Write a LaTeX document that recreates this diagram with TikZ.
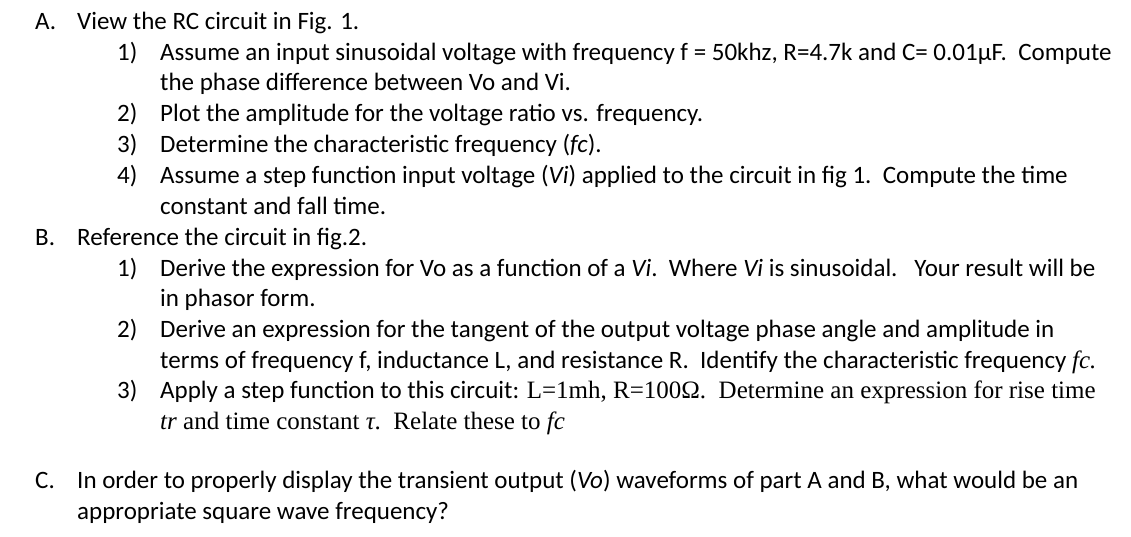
\documentclass[tikz,border=0pt]{standalone}
\usepackage{fontspec}
\setmainfont{Carlito}
\newfontfamily\serif{Liberation Serif}
\begin{document}
\begin{tikzpicture}[x=1pt,y=-1pt,t/.style={anchor=base west,inner sep=0pt,font=\fontsize{25}{30}\selectfont}]
\useasboundingbox (0,0) rectangle (1131,536);
\node[t] (a) at (35,29) {A.};
\node[t] (a0) at (77,29) {View the RC circuit in Fig. 1.};
\node[t] (a1) at (117,60) {1)};
\node[t] (a1t) at (160,60) {Assume an input sinusoidal voltage with frequency f = 50khz, R=4.7k and C= 0.01µF.\ \ Compute};
\node[t] (a1u) at (160,90) {the phase difference between Vo and Vi.};
\node[t] (a2) at (117,121) {2)};
\node[t] (a2t) at (160,121) {Plot the amplitude for the voltage ratio vs. frequency.};
\node[t] (a3) at (117,152) {3)};
\node[t] (a3t) at (160,152) {Determine the characteristic frequency (\textit{fc}).};
\node[t] (a4) at (117,183) {4)};
\node[t] (a4t) at (160,183) {Assume a step function input voltage (\textit{Vi}) applied to the circuit in fig 1.\ \ Compute the time};
\node[t] (a4u) at (160,214) {constant and fall time.};
\node[t] (b) at (35,245) {B.};
\node[t] (b0) at (77,245) {Reference the circuit in fig.2.};
\node[t] (b1) at (117,276) {1)};
\node[t] (b1t) at (160,276) {Derive the expression for Vo as a function of a \textit{Vi}.\ \ Where \textit{Vi} is sinusoidal.\ \ \ Your result will be};
\node[t] (b1u) at (160,306) {in phasor form.};
\node[t] (b2) at (117,337) {2)};
\node[t] (b2t) at (160,337) {Derive an expression for the tangent of the output voltage phase angle and amplitude in};
\node[t] (b2u) at (160,368) {terms of frequency f, inductance L, and resistance R.\ \ Identify the characteristic frequency {\serif\itshape fc.}};
\node[t] (b3) at (117,398) {3)};
\node[t] (b3t) at (160,398) {Apply a step function to this circuit: {\serif L=1mh, R=100Ω.\ \ Determine an expression for rise time}};
\node[t] (b3u) at (160,429) {\serif\textit{tr} and time constant \textit{τ}.\ \ Relate these to \textit{fc}};
\node[t] (c) at (35,488) {C.};
\node[t] (c0) at (77,488) {In order to properly display the transient output (\textit{Vo}) waveforms of part A and B, what would be an};
\node[t] (c1) at (77,519) {appropriate square wave frequency?};
\end{tikzpicture}
\end{document}
